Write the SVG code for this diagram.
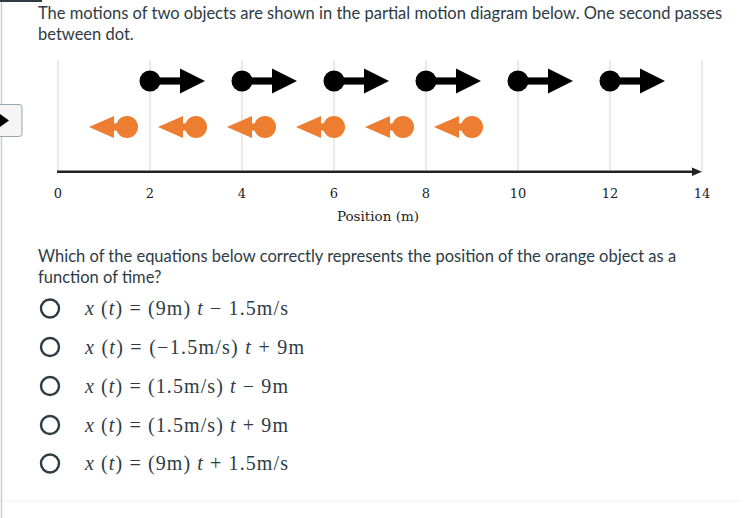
<svg xmlns="http://www.w3.org/2000/svg" width="753" height="518" viewBox="0 0 753 518">
<style>
.t{font-family:Lato,"Open Sans",sans-serif;font-size:16.5px;fill:#2D3B45}
.ax{font-family:"DejaVu Serif","Liberation Serif",serif;font-size:13px;fill:#222;text-anchor:middle}
.grid{stroke:#DCDCDC;stroke-width:1.2}
.eq{font-family:"Liberation Serif","Times New Roman",serif;font-size:20px;fill:#2D3B45}
.it{font-style:italic}
.radio{fill:none;stroke:#2D3B45;stroke-width:2.4}
</style>
<defs>
<g id="blk">
<circle cx="0" cy="0" r="10.5" fill="#000"/>
<rect x="0" y="-3.6" width="31" height="7.2" fill="#000"/>
<polygon points="30,-12.5 55,0 30,12.5" fill="#000"/>
</g>
<g id="org">
<circle cx="0" cy="0" r="11" fill="#ED7D31"/>
<rect x="-14" y="-3.6" width="14" height="7.2" fill="#ED7D31"/>
<polygon points="-13,-11 -38,0 -13,11" fill="#ED7D31"/>
</g>
</defs>
<rect width="753" height="518" fill="#fff"/>
<line x1="1.5" y1="0" x2="1.5" y2="518" stroke="#C7CDD1" stroke-width="1.5"/>
<line x1="0" y1="1" x2="42" y2="1" stroke="#2D3B45" stroke-width="2"/>
<line x1="2" y1="501" x2="740" y2="501" stroke="#EEEEEE" stroke-width="1"/>
<g id="button">
<rect x="-6" y="104.5" width="28" height="32" rx="3" fill="#F5F5F5" stroke="#9AA3A9" stroke-width="1"/>
<polygon points="0,114 9,120.5 0,127" fill="#000"/>
</g>
<text class="t" x="38" y="19">The motions of two objects are shown in the partial motion diagram below. One second passes</text>
<text class="t" x="38" y="40">between dot.</text>
<g id="grid">
<line class="grid" x1="58" y1="60" x2="58" y2="172"/>
<line class="grid" x1="150" y1="60" x2="150" y2="172"/>
<line class="grid" x1="242" y1="60" x2="242" y2="172"/>
<line class="grid" x1="334" y1="60" x2="334" y2="172"/>
<line class="grid" x1="426" y1="60" x2="426" y2="172"/>
<line class="grid" x1="518" y1="60" x2="518" y2="172"/>
<line class="grid" x1="610" y1="60" x2="610" y2="172"/>
<line class="grid" x1="702" y1="60" x2="702" y2="172"/>
</g>
<g id="axis">
<line x1="57" y1="171.8" x2="694" y2="171.8" stroke="#222" stroke-width="2.4"/>
<polygon points="692,167.5 702,171.8 692,176.1" fill="#222"/>
</g>
<g id="ticks">
<text class="ax" x="58" y="198">0</text>
<text class="ax" x="150" y="198">2</text>
<text class="ax" x="242" y="198">4</text>
<text class="ax" x="334" y="198">6</text>
<text class="ax" x="426" y="198">8</text>
<text class="ax" x="518" y="198">10</text>
<text class="ax" x="610" y="198">12</text>
<text class="ax" x="702" y="198">14</text>
<text class="ax" x="378" y="221" style="font-size:13.5px">Position (m)</text>
</g>
<g id="black-object">
<use href="#blk" x="150" y="81"/>
<use href="#blk" x="242" y="81"/>
<use href="#blk" x="334" y="81"/>
<use href="#blk" x="426" y="81"/>
<use href="#blk" x="518" y="81"/>
<use href="#blk" x="610" y="81"/>
</g>
<g id="orange-object">
<use href="#org" x="127" y="127"/>
<use href="#org" x="196" y="127"/>
<use href="#org" x="265" y="127"/>
<use href="#org" x="334" y="127"/>
<use href="#org" x="403" y="127"/>
<use href="#org" x="472" y="127"/>
</g>
<text class="t" x="38" y="262">Which of the equations below correctly represents the position of the orange object as a</text>
<text class="t" x="38" y="283">function of time?</text>
<g id="options">
<circle class="radio" cx="50" cy="308.5" r="9"/>
<circle class="radio" cx="50" cy="347" r="9"/>
<circle class="radio" cx="50" cy="386" r="9"/>
<circle class="radio" cx="50" cy="425" r="9"/>
<circle class="radio" cx="50" cy="463.5" r="9"/>
<text class="eq" x="85" y="315" textLength="203" lengthAdjust="spacing"><tspan class="it">x</tspan> (<tspan class="it">t</tspan>) = (9m) <tspan class="it">t</tspan> − 1.5m/s</text>
<text class="eq" x="85" y="353.5" textLength="219" lengthAdjust="spacing"><tspan class="it">x</tspan> (<tspan class="it">t</tspan>) = (−1.5m/s) <tspan class="it">t</tspan> + 9m</text>
<text class="eq" x="85" y="392.5" textLength="203" lengthAdjust="spacing"><tspan class="it">x</tspan> (<tspan class="it">t</tspan>) = (1.5m/s) <tspan class="it">t</tspan> − 9m</text>
<text class="eq" x="85" y="431.5" textLength="203" lengthAdjust="spacing"><tspan class="it">x</tspan> (<tspan class="it">t</tspan>) = (1.5m/s) <tspan class="it">t</tspan> + 9m</text>
<text class="eq" x="85" y="470" textLength="203" lengthAdjust="spacing"><tspan class="it">x</tspan> (<tspan class="it">t</tspan>) = (9m) <tspan class="it">t</tspan> + 1.5m/s</text>
</g>
</svg>
